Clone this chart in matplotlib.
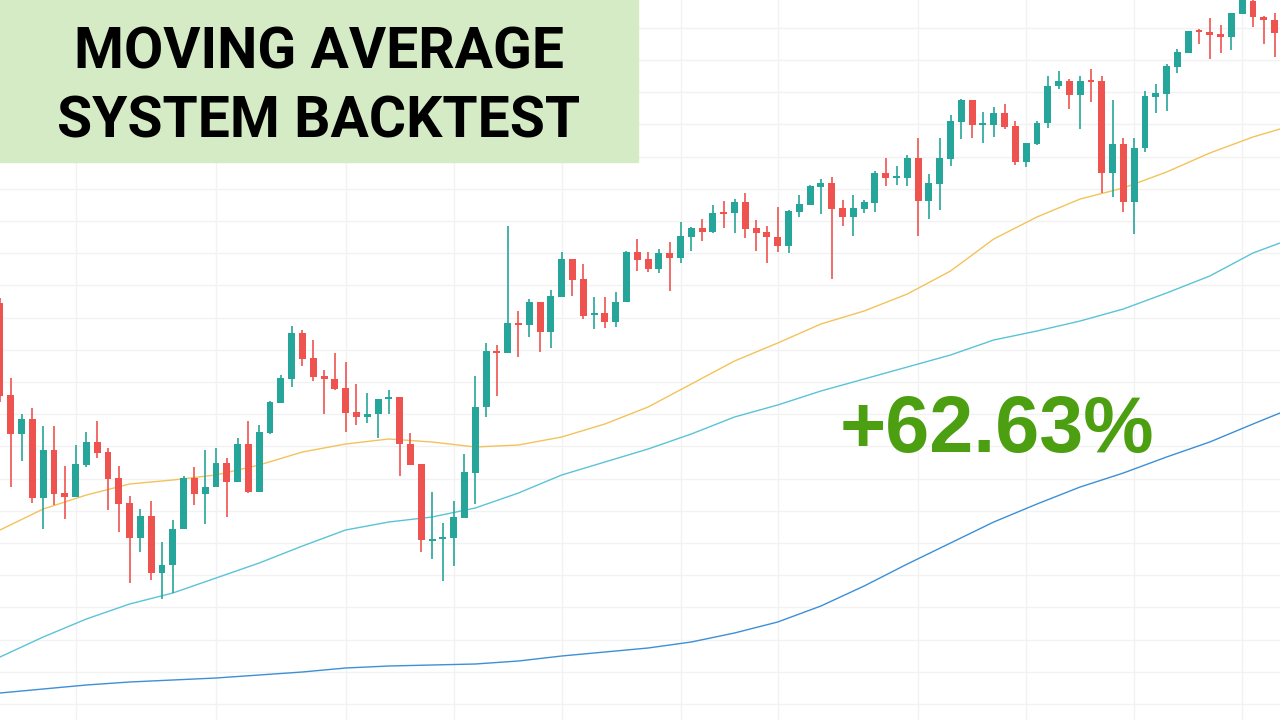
import matplotlib.pyplot as plt
from matplotlib.patches import Rectangle
import numpy as np

# OHLC values (price units), one per candle
opens = [417, 325, 286, 301, 222, 270, 227, 223, 255, 278,
         268, 242, 217, 182, 204, 147, 155, 191, 242, 226,
         233, 257, 238, 276, 228, 287, 317, 341, 387, 362,
         344, 341, 332, 308, 303, 306, 321, 323, 276, 256,
         179, 181, 182, 202, 247, 313, 369, 367, 397, 395,
         418, 388, 423, 461, 441, 405, 407, 398, 418, 468,
         461, 451, 467, 462, 483, 492, 488, 507, 507, 518,
         492, 488, 483, 474, 508, 515, 533, 537, 512, 503,
         511, 517, 547, 542, 542, 562, 519, 536, 561, 598,
         620, 595, 595, 607, 594, 558, 576, 597, 634, 639,
         625, 639, 639, 547, 576, 518, 572, 623, 626, 653,
         667, 689, 688, 686, 683, 706, 719, 703, 700]
highs = [422, 342, 306, 312, 294, 294, 254, 275, 288, 299,
         272, 254, 224, 211, 219, 178, 200, 244, 253, 270,
         272, 262, 282, 299, 295, 319, 345, 394, 390, 380,
         350, 367, 358, 336, 327, 321, 330, 323, 287, 256,
         228, 197, 219, 266, 344, 377, 375, 494, 409, 421,
         418, 430, 468, 461, 456, 423, 423, 428, 469, 481,
         468, 471, 478, 498, 493, 501, 515, 519, 521, 527,
         500, 494, 513, 510, 525, 535, 541, 543, 520, 525,
         520, 549, 562, 554, 565, 582, 546, 582, 605, 621,
         620, 608, 613, 616, 599, 577, 599, 644, 649, 641,
         644, 651, 644, 620, 582, 582, 629, 636, 656, 671,
         689, 691, 702, 695, 707, 725, 722, 704, 707]
lows = [318, 233, 259, 217, 191, 215, 201, 223, 253, 262,
        210, 188, 137, 168, 140, 121, 127, 191, 215, 196,
        233, 203, 238, 227, 228, 286, 317, 333, 354, 339,
        306, 330, 288, 295, 297, 282, 306, 244, 255, 168,
        161, 139, 154, 202, 216, 303, 324, 367, 363, 383,
        368, 372, 423, 424, 401, 391, 392, 393, 418, 449,
        448, 447, 429, 457, 469, 479, 487, 492, 487, 482,
        469, 457, 468, 467, 503, 515, 506, 441, 494, 484,
        507, 508, 534, 535, 534, 484, 501, 510, 554, 581,
        582, 577, 583, 591, 555, 553, 575, 592, 631, 611,
        591, 618, 527, 523, 508, 486, 568, 607, 609, 647,
        667, 676, 661, 667, 670, 706, 693, 676, 663]
closes = [324, 286, 301, 222, 270, 226, 223, 256, 278, 267,
          241, 216, 182, 204, 147, 155, 191, 242, 226, 233,
          257, 238, 276, 228, 288, 318, 342, 387, 361, 343,
          341, 331, 307, 303, 306, 321, 323, 276, 255, 180,
          181, 183, 203, 248, 313, 369, 367, 397, 395, 418,
          388, 424, 461, 440, 404, 407, 398, 418, 468, 460,
          451, 467, 462, 484, 492, 488, 507, 506, 518, 491,
          487, 483, 474, 509, 516, 534, 537, 511, 503, 512,
          518, 547, 542, 543, 562, 519, 537, 562, 599, 620,
          595, 596, 607, 593, 558, 577, 597, 634, 639, 625,
          639, 638, 547, 576, 518, 572, 624, 627, 654, 668,
          689, 688, 685, 683, 707, 720, 703, 700, 687]

# moving averages, sampled at candle index
ma_idx = list(range(0, 117, 4)) + [118.5]
ma_fast = [190, 211, 225, 236, 240, 245, 255, 268, 276, 281,
           278, 273, 275, 283, 296, 313, 336, 359, 377, 396,
           409, 426, 449, 481, 503, 521, 532, 548, 567, 583, 591]
ma_mid = [63, 83, 101, 116, 127, 142, 157, 174, 190, 198,
          203, 212, 227, 245, 258, 271, 286, 303, 315, 329,
          341, 353, 365, 380, 389, 399, 411, 427, 444, 467, 477]
ma_slow = [27, 31, 35, 38, 40, 42, 45, 48, 52, 54,
           55, 56, 59, 64, 68, 72, 78, 87, 98, 114,
           134, 156, 177, 198, 216, 233, 247, 263, 278, 296, 307]

date_ticks = [7, 20, 32, 42, 52, 63, 72, 85, 95, 105, 115]

title_lines = ['MOVING AVERAGE', 'SYSTEM BACKTEST']
result_text = '+62.63%'

o = np.array(opens)
h = np.array(highs)
l = np.array(lows)
c = np.array(closes)
idx = np.arange(len(o))
up = c >= o
cols = np.where(up, '#26a69a', '#ef5350')

fig = plt.figure(figsize=(12.8, 7.2), dpi=100)
ax = fig.add_axes([0, 0, 1, 1])
ax.set_xlim(0, 118.5)
ax.set_ylim(0, 720)
ax.set_xticks(date_ticks)
ax.set_yticks(np.arange(16, 720, 32.2))
ax.grid(True, color='#f2f2f2', lw=1)
ax.set_axisbelow(True)
ax.tick_params(left=False, bottom=False, labelleft=False, labelbottom=False)
for s in ax.spines.values():
    s.set_visible(False)

ax.plot(ma_idx, ma_fast, color='#f3c35a', lw=1.0, zorder=1)
ax.plot(ma_idx, ma_mid, color='#5bc3d8', lw=1.0, zorder=1)
ax.plot(ma_idx, ma_slow, color='#3d8fd6', lw=1.0, zorder=1)

ax.vlines(idx, l, h, colors=cols, lw=1.2, zorder=2)
body = np.maximum(np.abs(c - o), 2)
ax.bar(idx, body, bottom=np.minimum(o, c), width=0.64, color=cols, zorder=3)

fig.add_artist(Rectangle((0, 0.775), 0.4985, 0.225, transform=fig.transFigure,
                         color='#d5ebc6', zorder=5))
fig.text(0.249, 0.926, title_lines[0], ha='center', va='center', fontsize=41,
         family='Roboto', weight='bold', color='black', zorder=6)
fig.text(0.249, 0.830, title_lines[1], ha='center', va='center', fontsize=41,
         family='Roboto', weight='bold', color='black', zorder=6)

fig.text(0.779, 0.401, result_text, ha='center', va='center', fontsize=57,
         family='Liberation Sans', weight='bold', color='#4c9f10', zorder=6)

fig.savefig('out.png', dpi=100)
